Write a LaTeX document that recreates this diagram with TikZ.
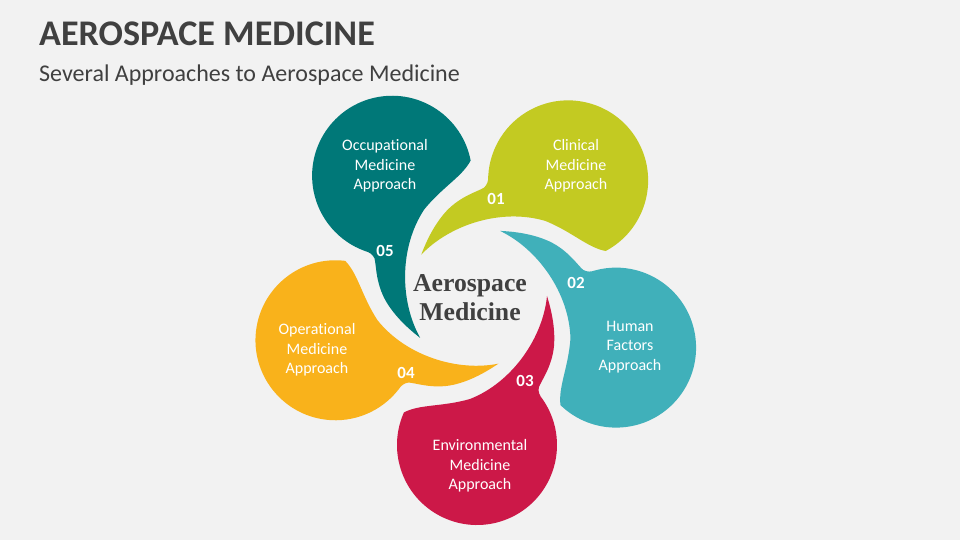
\documentclass[tikz,border=0pt]{standalone}
\usepackage{fontspec}
\setmainfont{Carlito}[RawFeature={-liga}]
\newfontfamily\serifbold{Liberation Serif}
\definecolor{bgc}{HTML}{F2F2F2}
\definecolor{darkt}{HTML}{404040}
\definecolor{cteal}{HTML}{007878}
\definecolor{cgreen}{HTML}{C3CA22}
\definecolor{ccyan}{HTML}{40B0BA}
\definecolor{cred}{HTML}{CC1848}
\definecolor{cyellow}{HTML}{F9B21B}
\newcommand\petalpath{(-73.08,-115.46) arc[start angle=156,end angle=395,radius=80] .. controls (62.5,-98.5) and (61,-95) .. (61.8,-90.5) .. controls (64,-84) and (75,-70) .. (77,-49) .. controls (78.5,-30) and (74,-12) .. (70,1) .. controls (66,-40) and (36,-85) .. (-7,-102) .. controls (-35,-110) and (-57,-107) .. (-73.08,-115.46) -- cycle}
\tikzset{
  lbl/.style={text=white, align=center, inner sep=0pt, font=\fontsize{16}{19.5}\selectfont},
  num/.style={text=white, inner sep=0pt, font=\bfseries\fontsize{17}{17}\selectfont},
  ctr/.style={text=darkt, inner sep=0pt, anchor=base, font=\serifbold\bfseries\fontsize{25.7}{29}\selectfont}
}
\begin{document}
\begin{tikzpicture}[x=1pt,y=1pt]
\useasboundingbox (0,0) rectangle (960,540);
\fill[bgc] (0,0) rectangle (960,540);
\node[text=darkt, anchor=base west, inner sep=0pt, font=\bfseries\fontsize{36.1}{36}\selectfont] (title) at (39,494) {AEROSPACE MEDICINE};
\node[text=darkt, anchor=base west, inner sep=0pt, font=\fontsize{24}{24}\selectfont] (subtitle) at (39,458) {Several Approaches to Aerospace Medicine};
\coordinate (C) at (477,243);
\begin{scope}[shift={(C)},rotate=0] \fill[cred] \petalpath; \end{scope}
\begin{scope}[shift={(C)},rotate=70] \fill[ccyan] \petalpath; \end{scope}
\begin{scope}[shift={(C)},rotate=142] \fill[cgreen] \petalpath; \end{scope}
\begin{scope}[shift={(C)},rotate=215] \fill[cteal] \petalpath; \end{scope}
\begin{scope}[shift={(C)},rotate=287] \fill[cyellow] \petalpath; \end{scope}
\node[lbl] (t5) at (385,374) {Occupational\\Medicine\\Approach};
\node[lbl] (t1) at (576,374) {Clinical\\Medicine\\Approach};
\node[lbl] (t2) at (630,193) {Human\\Factors\\Approach};
\node[lbl] (t3) at (480,74) {Environmental\\Medicine\\Approach};
\node[lbl] (t4) at (317,190) {Operational\\Medicine\\Approach};
\node[num] (n5) at (385,289) {05};
\node[num] (n1) at (496,341) {01};
\node[num] (n2) at (576,257) {02};
\node[num] (n3) at (525,159) {03};
\node[num] (n4) at (406,167) {04};
\node[ctr] (c1) at (470,248) {Aerospace};
\node[ctr] (c2) at (470,219) {Medicine};
\end{tikzpicture}
\end{document}
